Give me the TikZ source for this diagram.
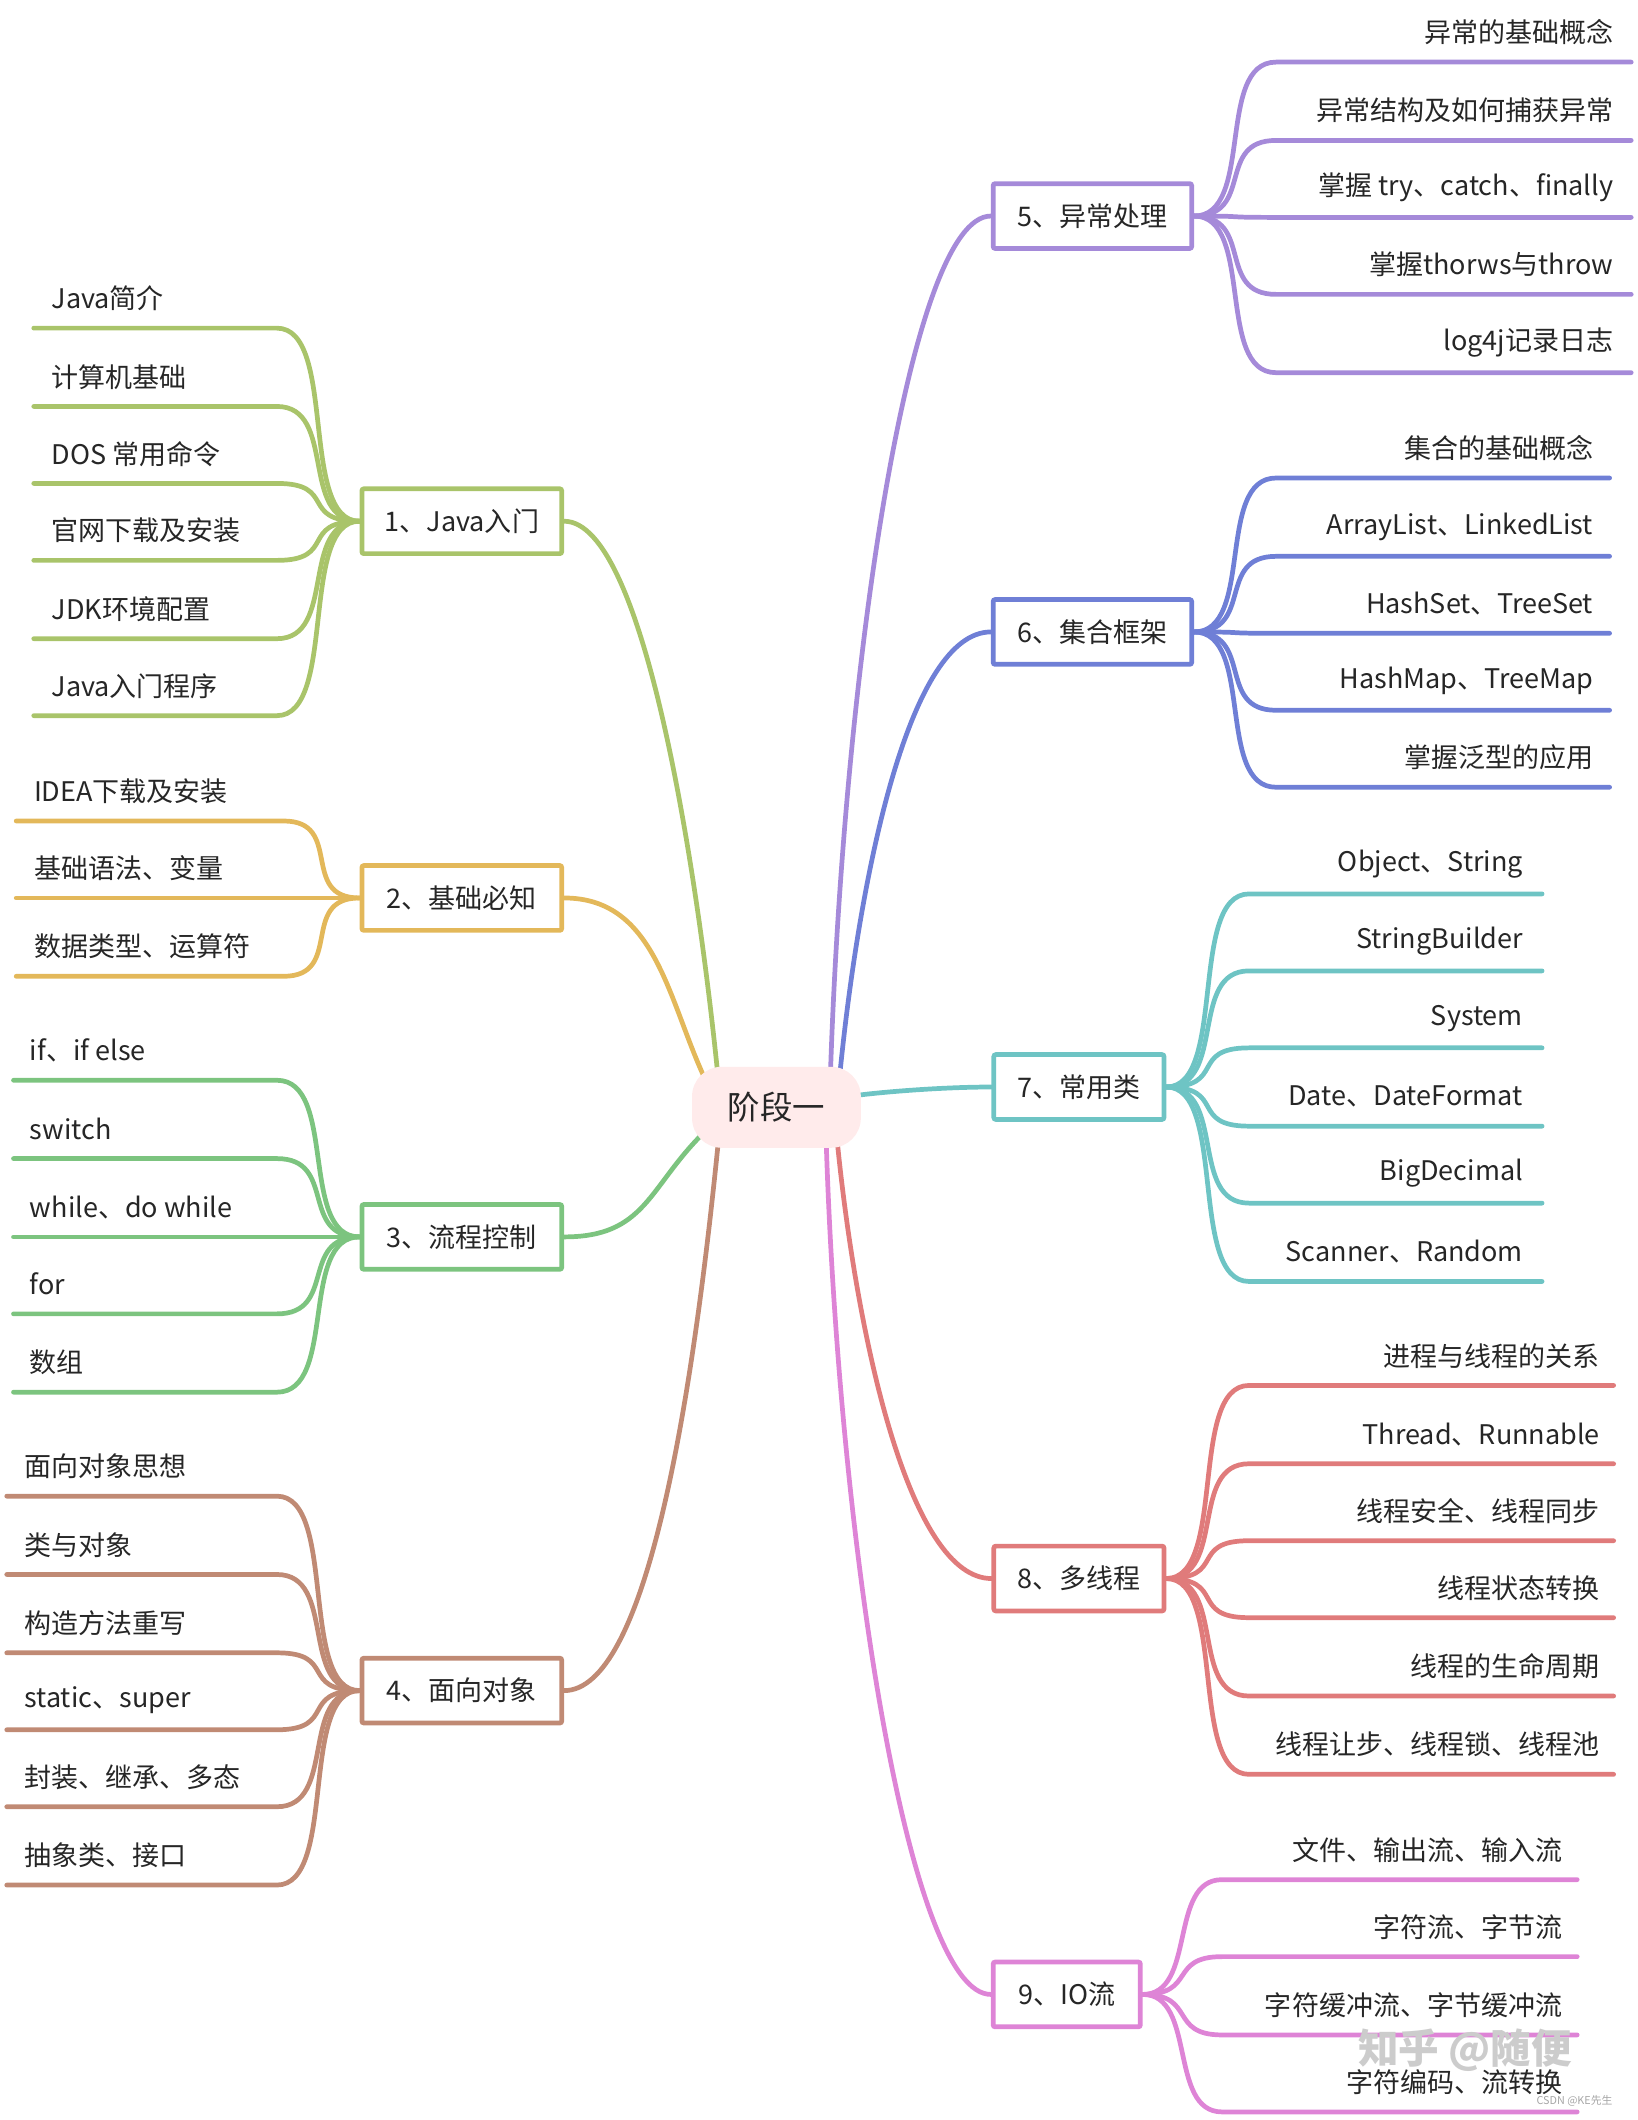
\documentclass[tikz,border=0pt]{standalone}
\usepackage{fontspec}
\setmainfont{Noto Sans CJK SC}
\begin{document}
\begin{tikzpicture}[x=1pt,y=-1pt,
 lk/.style={line width=3.5pt,line cap=round},
 bx/.style={draw=#1,line width=3.5pt,fill=white,rounded corners=1.5pt,minimum height=48pt,font=\fontsize{20}{24}\selectfont,text=black!85},
 lt/.style={font=\fontsize{20}{24}\selectfont,text=black!85,inner sep=0pt}]
\useasboundingbox (0,0) rectangle (1213,1570);
\definecolor{c1}{HTML}{A9C46A}\definecolor{c2}{HTML}{E3B85A}\definecolor{c3}{HTML}{7CC47F}
\definecolor{c4}{HTML}{C08A74}\definecolor{c5}{HTML}{A58AD9}\definecolor{c6}{HTML}{6F7FD6}
\definecolor{c7}{HTML}{6EC4C4}\definecolor{c8}{HTML}{E07B7B}\definecolor{c9}{HTML}{DE84D6}
% boxes
\node[bx=c1,minimum width=148pt] (b1) at (342,386) {1、Java入门};
\node[bx=c2,minimum width=148pt] (b2) at (342,665) {2、基础必知};
\node[bx=c3,minimum width=148pt] (b3) at (342,916) {3、流程控制};
\node[bx=c4,minimum width=148pt] (b4) at (342,1252) {4、面向对象};
\node[bx=c5,minimum width=147pt] (b5) at (809,160) {5、异常处理};
\node[bx=c6,minimum width=147pt] (b6) at (809,468) {6、集合框架};
\node[bx=c7,minimum width=126pt] (b7) at (799,805) {7、常用类};
\node[bx=c8,minimum width=126pt] (b8) at (799,1169) {8、多线程};
\node[bx=c9,minimum width=109pt] (b9) at (790,1477) {9、IO流};
% left leaves
\foreach \y/\t in {221/Java简介,279/计算机基础,336/DOS 常用命令,393/官网下载及安装,451/JDK环境配置,508/Java入门程序}{
 \draw[lk,c1] (b1.west) .. controls +(-45,0) and +(45,0) .. (205,\y+22) -- (25,\y+22);
 \node[lt,anchor=west] at (38,\y) {\t};}
\foreach \y/\t in {586/IDEA下载及安装,643/基础语法、变量,701/数据类型、运算符}{
 \draw[lk,c2] (b2.west) .. controls +(-45,0) and +(45,0) .. (210,\y+22) -- (12,\y+22);
 \node[lt,anchor=west] at (25,\y) {\t};}
\foreach \y/\t in {778/if、if else,836/switch,894/while、do while,951/for,1009/数组}{
 \draw[lk,c3] (b3.west) .. controls +(-45,0) and +(45,0) .. (205,\y+22) -- (10,\y+22);
 \node[lt,anchor=west] at (22,\y) {\t};}
\foreach \y/\t in {1086/面向对象思想,1144/类与对象,1202/构造方法重写,1259/static、super,1316/封装、继承、多态,1374/抽象类、接口}{
 \draw[lk,c4] (b4.west) .. controls +(-45,0) and +(45,0) .. (205,\y+22) -- (5,\y+22);
 \node[lt,anchor=west] at (18,\y) {\t};}
% right leaves
\foreach \y/\t in {24/异常的基础概念,82/异常结构及如何捕获异常,139/掌握 try、catch、finally,196/掌握thorws与throw,254/log4j记录日志}{
 \draw[lk,c5] (b5.east) .. controls +(45,0) and +(-45,0) .. (945,\y+22) -- (1208,\y+22);
 \node[lt,anchor=east] at (1195,\y) {\t};}
\foreach \y/\t in {332/集合的基础概念,390/ArrayList、LinkedList,447/HashSet、TreeSet,504/HashMap、TreeMap,561/掌握泛型的应用}{
 \draw[lk,c6] (b6.east) .. controls +(45,0) and +(-45,0) .. (945,\y+22) -- (1192,\y+22);
 \node[lt,anchor=east] at (1180,\y) {\t};}
\foreach \y/\t in {640/Object、String,697/StringBuilder,754/System,812/Date、DateFormat,869/BigDecimal,927/Scanner、Random}{
 \draw[lk,c7] (b7.east) .. controls +(45,0) and +(-45,0) .. (925,\y+22) -- (1142,\y+22);
 \node[lt,anchor=east] at (1128,\y) {\t};}
\foreach \y/\t in {1004/进程与线程的关系,1062/Thread、Runnable,1119/线程安全、线程同步,1176/线程状态转换,1234/线程的生命周期,1292/线程让步、线程锁、线程池}{
 \draw[lk,c8] (b8.east) .. controls +(45,0) and +(-45,0) .. (925,\y+22) -- (1195,\y+22);
 \node[lt,anchor=east] at (1185,\y) {\t};}
\foreach \y/\t in {1370/文件、输出流、输入流,1427/字符流、字节流,1485/字符缓冲流、字节缓冲流,1542/字符编码、流转换}{
 \draw[lk,c9] (b9.east) .. controls +(40,0) and +(-40,0) .. (905,\y+22) -- (1168,\y+22);
 \node[lt,anchor=east] at (1157,\y) {\t};}
% root connectors
\coordinate (r1) at (532,800);\coordinate (r2) at (525,805);\coordinate (r3) at (520,840);\coordinate (r4) at (532,845);
\coordinate (r5) at (615,795);\coordinate (r6) at (622,795);\coordinate (r7) at (630,815);\coordinate (r8) at (620,845);\coordinate (r9) at (612,850);
\draw[lk,c1] (b1.east) .. controls +(60,0) and +(-15,-150) .. (r1);
\draw[lk,c2] (b2.east) .. controls +(70,0) and +(-30,-60) .. (r2);
\draw[lk,c3] (b3.east) .. controls +(60,0) and +(-40,40) .. (r3);
\draw[lk,c4] (b4.east) .. controls +(60,0) and +(-20,200) .. (r4);
\draw[lk,c5] (b5.west) .. controls +(-60,0) and +(10,-300) .. (r5);
\draw[lk,c6] (b6.west) .. controls +(-60,0) and +(15,-150) .. (r6);
\draw[lk,c7] (b7.west) .. controls +(-60,0) and +(-40,0) .. (r7);
\draw[lk,c8] (b8.west) .. controls +(-60,0) and +(15,150) .. (r8);
\draw[lk,c9] (b9.west) .. controls +(-60,0) and +(10,300) .. (r9);
\node[fill=red!8,rounded corners=22pt,minimum width=125pt,minimum height=60pt,font=\fontsize{24}{28}\selectfont,text=black!85] (c) at (575,820) {阶段一};
\node[text=black!20,font=\fontsize{30}{34}\selectfont\bfseries] (wm) at (1085,1518) {知乎 @随便};
\node[text=black!35,font=\fontsize{8}{9}\selectfont] (wm2) at (1166,1556) {CSDN @KE先生};
\end{tikzpicture}
\end{document}
